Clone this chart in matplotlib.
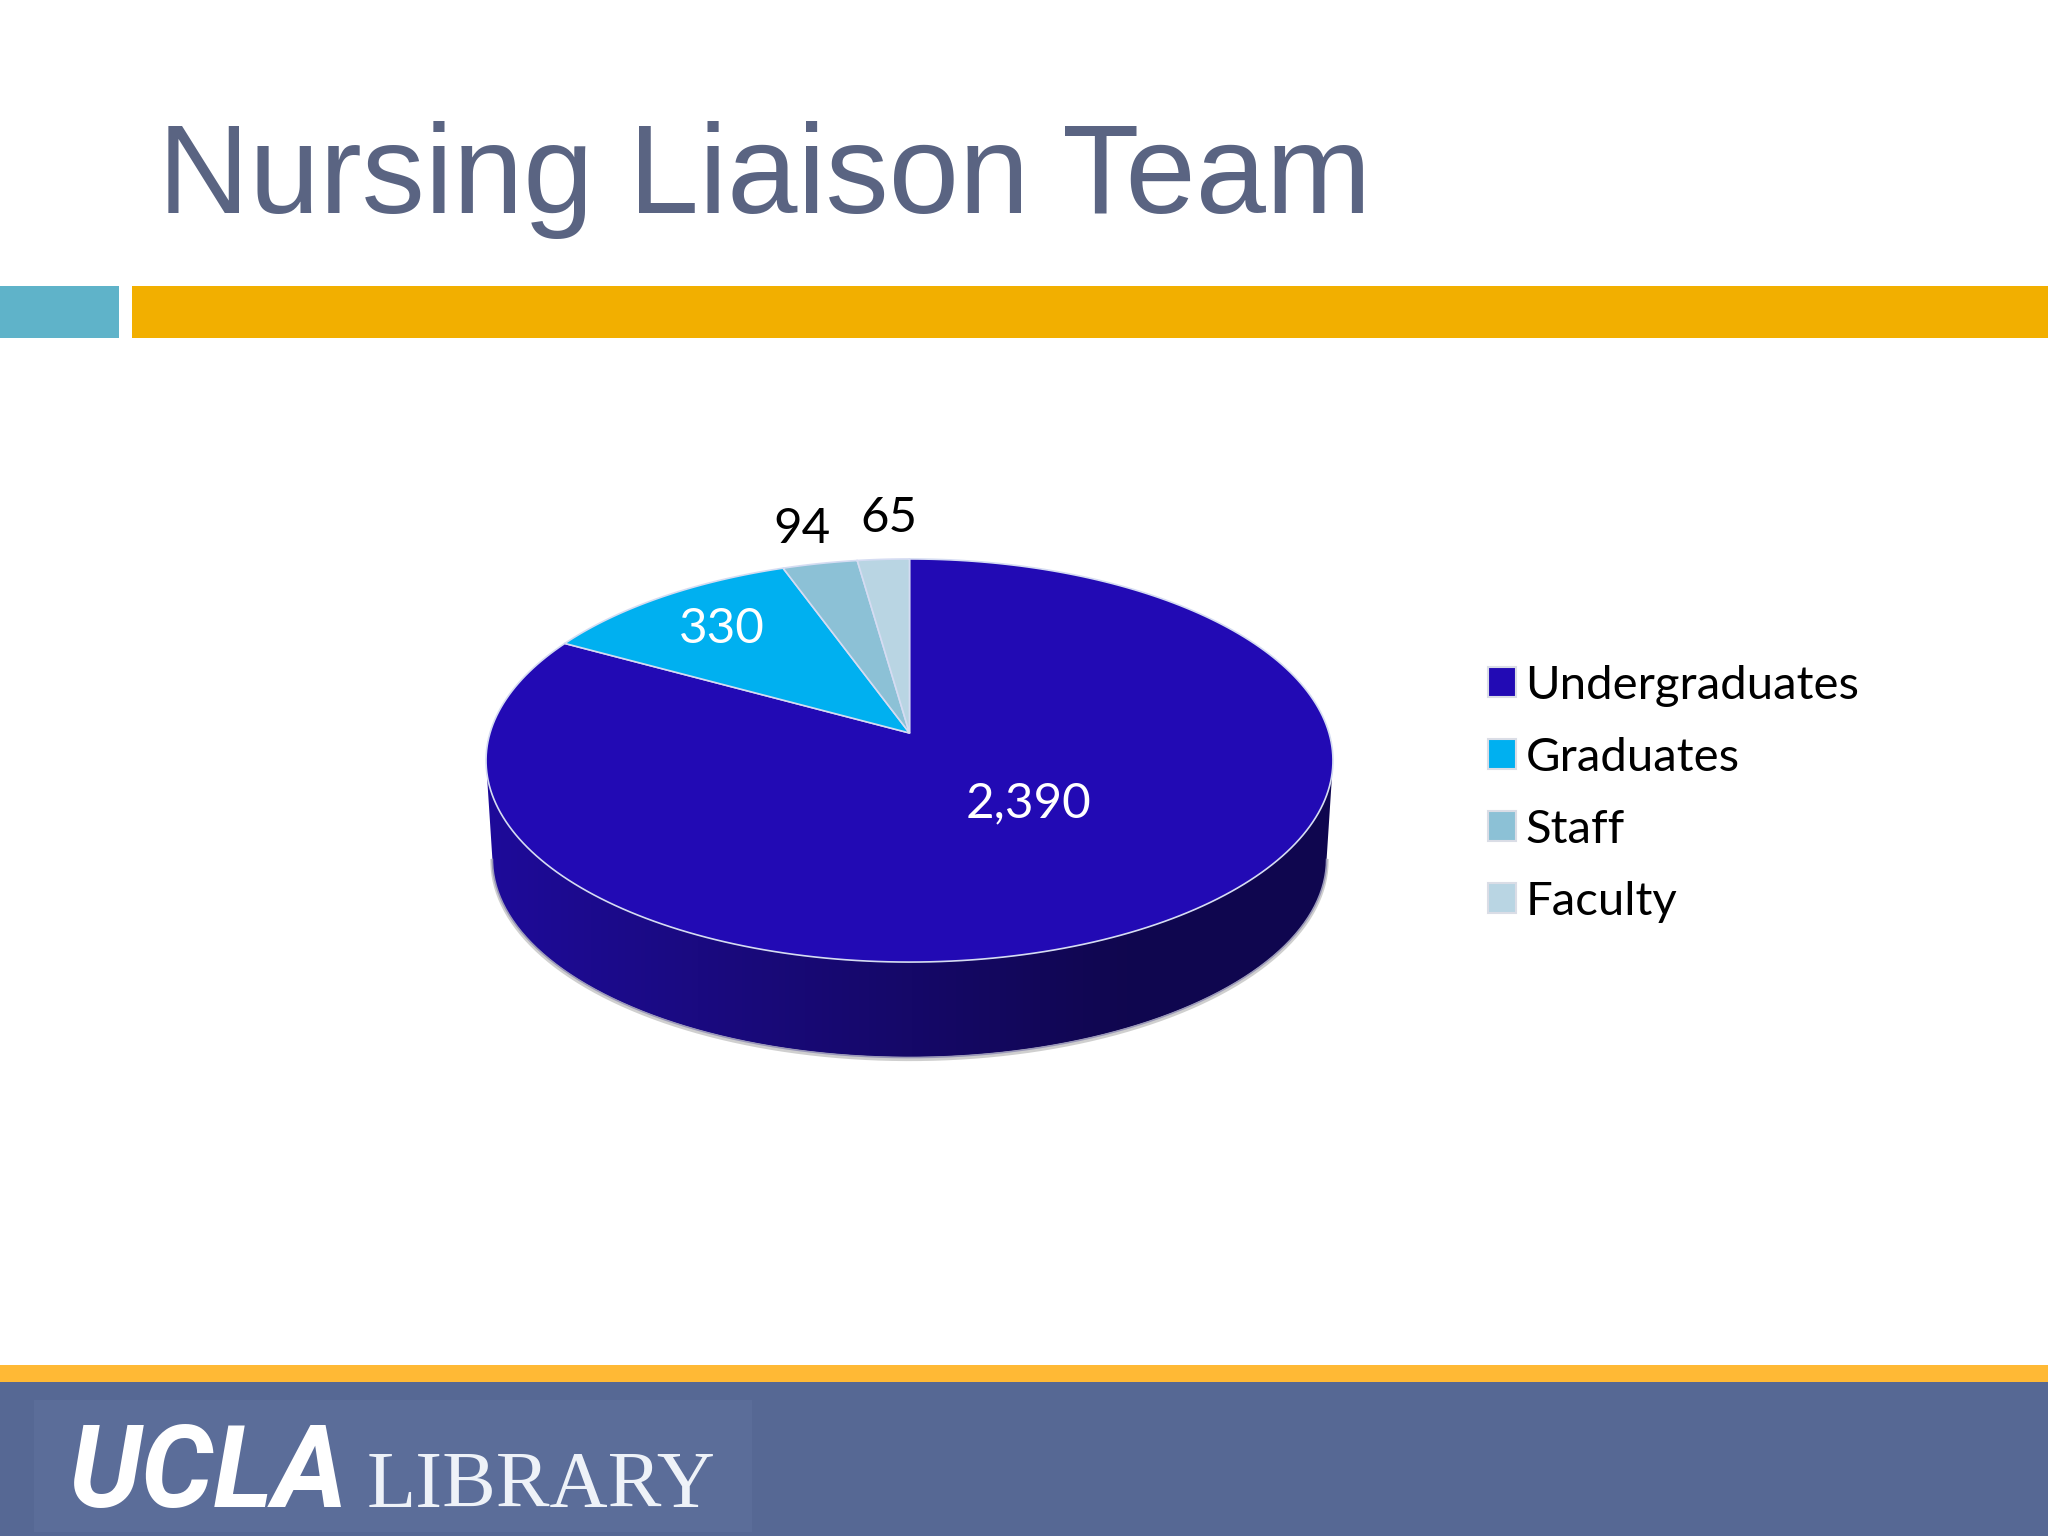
import numpy as np
import matplotlib
matplotlib.use('Agg')
import matplotlib.pyplot as plt
from matplotlib.patches import Rectangle, Patch, Polygon
from matplotlib.colors import LinearSegmentedColormap

# data
groups = ['Undergraduates', 'Graduates', 'Staff', 'Faculty']
counts = [2390, 330, 94, 65]
colors = ['#220AB4', '#00B0F0', '#8CC1D6', '#B9D5E3']

fig = plt.figure(figsize=(20.48, 15.36), dpi=100, facecolor='white')
# whole slide in pixels
ax = fig.add_axes([0, 0, 1, 1])

# header + footer bands
ax.add_patch(Rectangle((0, 286), 119, 52, color='#5FB3C9', lw=0))
ax.add_patch(Rectangle((132, 286), 1916, 52, color='#F2AF00', lw=0))
ax.add_patch(Rectangle((0, 1365), 2048, 17, color='#FFB935', lw=0))
ax.add_patch(Rectangle((0, 1382), 2048, 154, color='#566894', lw=0))
ax.add_patch(Rectangle((34, 1400), 718, 132, color='#5B6D99', lw=0))

ax.text(158, 213, 'Nursing Liaison Team', family='Liberation Sans', fontsize=91,
        color='#5A6482', ha='left', va='baseline')
ax.text(68, 1507, 'UCLA', family='Roboto', weight='bold', style='italic',
        fontsize=82, color='white', ha='left', va='baseline')
ax.text(367, 1507, 'LIBRARY', family='Liberation Serif', fontsize=58,
        color='#EEF2F8', ha='left', va='baseline')

# tilted pie: the disc is seen in perspective so the apex sits above the ellipse centre
cx, cy = 909.5, 733
c, h, s = 0.1365, 197.8, 419.5


def project(angle, r=1.0, scale=1.0, drop=0.0):
    # angle in degrees clockwise from the top
    x = r * np.sin(np.radians(angle))
    y = r * np.cos(np.radians(angle))
    w = 1 + c * y
    return cx + scale * s * x / w, cy - scale * h * y / w + drop


edges = np.concatenate([[0], np.cumsum(counts)]) / sum(counts) * 360

# side wall, darker towards the right
wall = LinearSegmentedColormap.from_list('wall', ['#1E0A9A', '#1A0A80', '#150868', '#10064F', '#0F0650'])
rim = np.linspace(98, 262, 200)
tx, ty = project(rim)
bx, by = project(rim, scale=0.985, drop=98.4)
outline = Polygon(np.c_[np.r_[tx, bx[::-1]], np.r_[ty, by[::-1]]], closed=True, fc='none', ec='none')
ax.add_patch(outline)
grad = ax.imshow(np.linspace(0, 1, 256)[None, :], cmap=wall, aspect='auto', zorder=2,
                 extent=(bx.min() - 8, tx.max() + 8, 1070, 740))
grad.set_clip_path(outline)

# soft shadow and rim under the wall
ax.plot(bx, by + 2, color='#777777', lw=3, alpha=0.35, zorder=1)
ax.plot(bx, by + 0.5, color='#9A98B8', lw=1.2, zorder=3)

# top of the disc
for i in range(len(counts)):
    aa = np.linspace(edges[i], edges[i + 1], 240)
    ex, ey = project(aa)
    ax.fill(np.r_[cx, ex], np.r_[cy, ey], color=colors[i], ec='#D5DCF2', lw=1.2, zorder=4)

# value labels
label_pos = [(1028, 803), (722, 629), (802, 529), (889, 518)]
label_col = ['white', 'white', 'black', 'black']
for v, p, col in zip(counts, label_pos, label_col):
    ax.text(p[0], p[1], f'{v:,}', family='Lato', fontsize=35.5, color=col,
            ha='center', va='center', zorder=5)

handles = [Patch(facecolor=col, edgecolor='#DADDE6', lw=1.5) for col in colors]
ax.legend(handles, groups, loc='upper left', bbox_to_anchor=(1488 / 2048, 1 - 665 / 1536),
          frameon=False, prop={'family': 'Lato', 'size': 34}, handlelength=0.6,
          handleheight=0.6, handletextpad=0.19, labelspacing=0.635, borderpad=0, borderaxespad=0)

ax.set_xlim(0, 2048)
ax.set_ylim(1536, 0)
ax.axis('off')

fig.savefig('out.png', dpi=100)
